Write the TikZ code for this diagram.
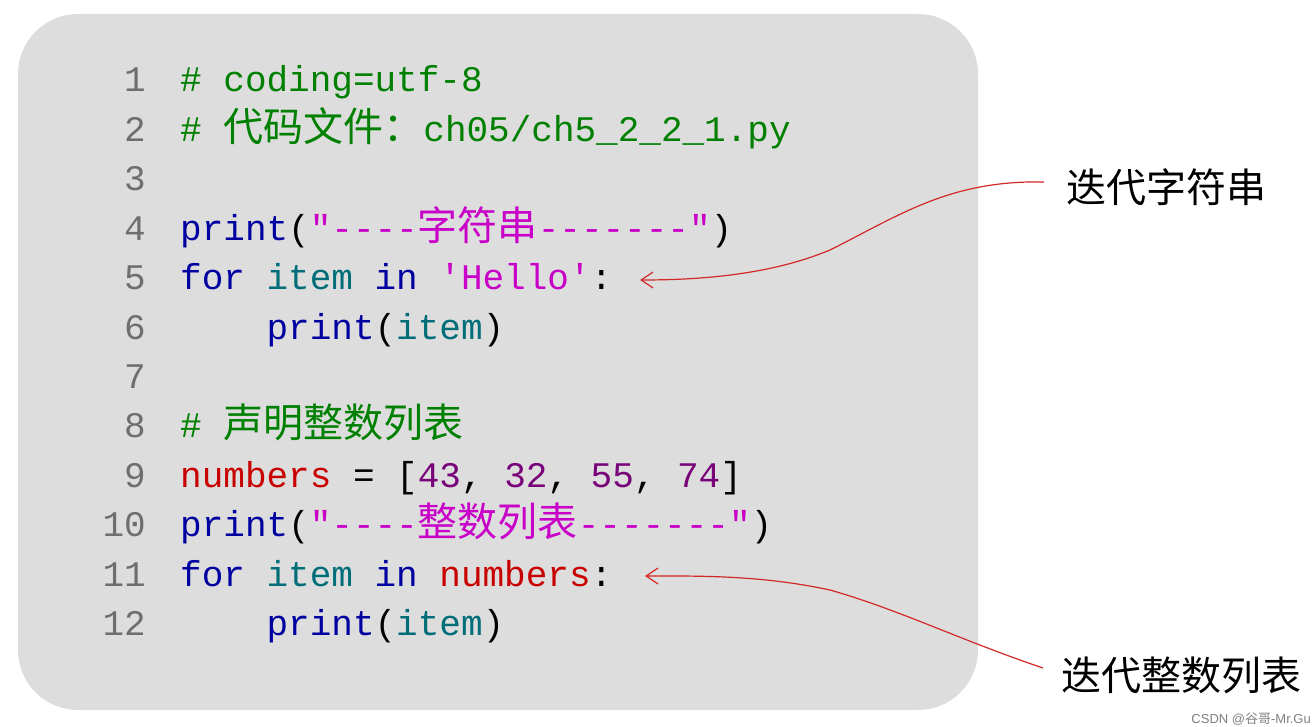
\documentclass[tikz,border=0pt]{standalone}
\usepackage{fontspec}
\usetikzlibrary{arrows.meta}
\newfontfamily\mono{Liberation Mono}
\newfontfamily\cjk{Noto Sans CJK SC}
\newfontfamily\sans{Liberation Sans}
\definecolor{bg}{RGB}{221,221,221}
\definecolor{cm}{RGB}{0,128,0}
\definecolor{kw}{RGB}{0,0,160}
\definecolor{id}{RGB}{0,110,120}
\definecolor{st}{RGB}{200,0,200}
\definecolor{nm}{RGB}{200,0,0}
\definecolor{nu}{RGB}{120,0,120}
\definecolor{ln}{RGB}{110,110,110}
\definecolor{ar}{RGB}{210,40,40}
\newcommand{\zh}[1]{{\cjk\fontsize{40}{40}\selectfont #1}}
\begin{document}
\begin{tikzpicture}[x=1pt,y=-1pt,
  code/.style={anchor=base west,inner sep=0pt,font=\mono\fontsize{36}{36}\selectfont},
  num/.style={anchor=base east,inner sep=0pt,text=ln,font=\mono\fontsize{36}{36}\selectfont},
  note/.style={anchor=west,inner sep=0pt,font=\cjk\fontsize{40}{40}\selectfont},
  pointer/.style={draw=ar,line width=1.2pt,-{Straight Barb[length=12pt,width=16pt]}}]
\useasboundingbox (0,0) rectangle (1313,727);
\fill[white] (0,0) rectangle (1313,727);
\fill[bg,rounded corners=60pt] (18,14) rectangle (978,710);
\foreach \i in {1,...,12}{\node[num] (n\i) at (146,{80+(\i-1)*49.4+12}) {\i};}
\node[code] (l1) at (180,92) {\textcolor{cm}{\# coding=utf-8}};
\node[code] (l2) at (180,141.4) {\textcolor{cm}{\# \zh{代码文件：}ch05/ch5\_2\_2\_1.py}};
\node[code] (l4) at (180,240.2) {\textcolor{kw}{print}(\textcolor{st}{"----\zh{字符串}-------"})};
\node[code] (l5) at (180,289.6) {\textcolor{kw}{for} \textcolor{id}{item} \textcolor{kw}{in} \textcolor{st}{'Hello'}:};
\node[code] (l6) at (180,339) {\ \ \ \ \textcolor{kw}{print}(\textcolor{id}{item})};
\node[code] (l8) at (180,437.8) {\textcolor{cm}{\# \zh{声明整数列表}}};
\node[code] (l9) at (180,487.2) {\textcolor{nm}{numbers} = [\textcolor{nu}{43}, \textcolor{nu}{32}, \textcolor{nu}{55}, \textcolor{nu}{74}]};
\node[code] (l10) at (180,536.6) {\textcolor{kw}{print}(\textcolor{st}{"----\zh{整数列表}-------"})};
\node[code] (l11) at (180,586) {\textcolor{kw}{for} \textcolor{id}{item} \textcolor{kw}{in} \textcolor{nm}{numbers}:};
\node[code] (l12) at (180,635.4) {\ \ \ \ \textcolor{kw}{print}(\textcolor{id}{item})};
\node[note] (a1) at (1066,187) {迭代字符串};
\node[note] (a2) at (1061,675) {迭代整数列表};
\node[anchor=south east,inner sep=2pt,text=gray,font=\sans\fontsize{13}{13}\selectfont] (wm) at (1313,727) {CSDN @\cjk 谷哥\sans -Mr.Gu};
\coordinate (t1) at (640,280);
\coordinate (t2) at (645,576);
\draw[pointer] (a1.west) ++(-22,-5) .. controls (950,180) and (900,215) .. (830,250) .. controls (770,275) and (700,280) .. (t1);
\draw[pointer] (a2.west) ++(-18,-7) .. controls (960,640) and (900,610) .. (830,590) .. controls (760,575) and (700,576) .. (t2);
\end{tikzpicture}
\end{document}
